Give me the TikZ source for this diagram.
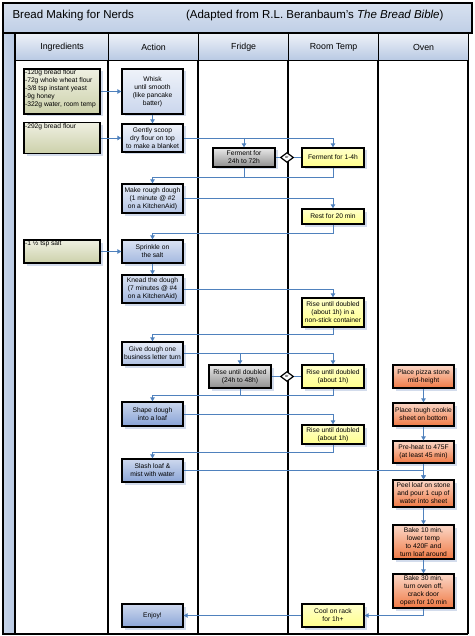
\documentclass[tikz,border=0pt]{standalone}
\usepackage{fontspec}
\setmainfont{Liberation Sans}
\usepackage{xcolor}
\usetikzlibrary{shapes.geometric,shadows,arrows.meta}

\definecolor{flowblue}{HTML}{4F81BD}
\definecolor{actblue}{HTML}{5A7FC6}
\definecolor{lanehead}{HTML}{B8C9E3}
\definecolor{ingtop}{HTML}{EFF0E2}
\definecolor{ingbot}{HTML}{CCD1AA}
\definecolor{roomyel}{HTML}{FFFF8C}
\definecolor{ovenorg}{HTML}{F07A45}
\definecolor{fridgegray}{HTML}{8E8E8E}
\definecolor{shadowblue}{HTML}{D3DCEC}

\begin{document}
\begin{tikzpicture}[x=1pt,y=-1pt,
    boxfont/.style={font=\fontsize{6.7}{8}\selectfont},
    stepbox/.style={draw=black,line width=1.3pt,inner sep=1pt,align=center,boxfont,
        drop shadow={shadow xshift=2.5pt,shadow yshift=-2.5pt,fill=shadowblue,opacity=1,draw=none}},
    ingbox/.style={stepbox,top color=ingtop,bottom color=ingbot,minimum width=76pt,minimum height=#1},
    ingtext/.style={align=left,inner sep=1.5pt,boxfont,anchor=north west},
    actbox/.style 2 args={stepbox,top color=actblue!#1!white,bottom color=actblue!#2!white,
        minimum width=61pt},
    fridgebox/.style={stepbox,top color=fridgegray!20!white,bottom color=fridgegray,minimum width=62pt},
    roombox/.style={stepbox,top color=roomyel!45!white,bottom color=roomyel,minimum width=62pt},
    ovenbox/.style={stepbox,top color=ovenorg!30!white,bottom color=ovenorg,minimum width=61pt},
    ornode/.style={diamond,draw=black,line width=1.2pt,fill=white,inner sep=0pt,
        minimum width=13pt,minimum height=10pt,font=\fontsize{4}{4}\selectfont},
    lanehead/.style={draw=black,line width=1.2pt,top color=lanehead!25!white,bottom color=lanehead,
        anchor=north west,inner sep=0pt,font=\fontsize{8.8}{10}\selectfont},
    laneline/.style={draw=black,line width=1.3pt},
    link/.style={draw=flowblue,line width=0.9pt},
    flow/.style={link,-{Triangle[width=4.5pt,length=4pt]}}]

    \useasboundingbox (0,0) rectangle (474,636);

    \def\lanetop{33}
    \def\headh{27}
    \def\lanebot{634}

    \shade[draw=black,line width=1.2pt,top color=lanehead!55!white,bottom color=lanehead!90!white]
        (3,3) rectangle (472,\lanetop);
    \node[anchor=west,font=\fontsize{11.5}{13}\selectfont] (title) at (9,16) {Bread Making for Nerds};
    \node[anchor=east,font=\fontsize{11.5}{13}\selectfont] (source) at (447,16)
        {(Adapted from R.L. Beranbaum’s \textit{The Bread Bible})};

    \shade[draw=black,line width=1.2pt,left color=lanehead!80!white,right color=lanehead]
        (3,\lanetop) rectangle (15,\lanebot);

    \foreach [count=\col from 0] \lane/\xl/\xr in
        {Ingredients/15/108,Action/108/198,Fridge/198/288,Room Temp/288/378,Oven/378/468} {
        \node[lanehead,minimum width={(\xr-\xl)*1pt},minimum height=\headh pt]
            (head\col) at (\xl,\lanetop) {\lane};
        \draw[laneline] (\xl,{\lanetop+\headh}) -- (\xl,\lanebot);
    }
    \draw[laneline] (468,{\lanetop+\headh}) -- (468,\lanebot);
    \draw[laneline] (15,\lanebot) -- (468,\lanebot);

    \node[ingbox=45pt] (ing1) at (62,91.5) {};
    \node[ingtext] (ing1txt) at (ing1.north west)
        {-120g bread flour\\-72g whole wheat flour\\-3/8 tsp instant yeast\\-9g honey\\-322g water, room temp};
    \node[ingbox=31pt] (ing2) at (62,138) {};
    \node[ingtext] (ing2txt) at (ing2.north west) {-292g bread flour};
    \node[ingbox=23pt] (ing3) at (62,251.5) {};
    \node[ingtext] (ing3txt) at (ing3.north west) {-1 ½ tsp salt};

    \node[actbox={10}{32},minimum height=45pt] (a1) at (152.5,91.5)
        {Whisk\\until smooth\\(like pancake\\batter)};
    \node[actbox={10}{35},minimum height=28pt] (a2) at (152.5,138)
        {Gently scoop\\dry flour on top\\to make a blanket};
    \node[actbox={15}{45},minimum height=29pt] (a3) at (152.5,198.5)
        {Make rough dough\\(1 minute @ \#2\\on a KitchenAid)};
    \node[actbox={22}{55},minimum height=23pt] (a4) at (152.5,251.5) {Sprinkle on\\the salt};
    \node[actbox={22}{55},minimum height=28pt] (a5) at (152.5,289)
        {Knead the dough\\(7 minutes @ \#4\\on a KitchenAid)};
    \node[actbox={15}{48},minimum height=23pt] (a6) at (152.5,353.5)
        {Give dough one\\business letter turn};
    \node[actbox={32}{72},minimum height=24pt] (a7) at (152.5,414) {Shape dough\\into a loaf};
    \node[actbox={30}{70},minimum height=23pt] (a8) at (152.5,470.5) {Slash loaf \&\\mist with water};
    \node[actbox={30}{70},minimum height=23pt] (a9) at (152.5,615.5) {Enjoy!};

    \node[fridgebox,minimum height=19pt] (f1) at (244,157.5) {Ferment for\\24h to 72h};
    \node[fridgebox,minimum height=23pt] (f2) at (240,376.5) {Rise until doubled\\(24h to 48h)};

    \node[roombox,minimum height=19pt] (r1) at (333,157.5) {Ferment for 1-4h};
    \node[roombox,minimum height=15pt] (r2) at (333,216.5) {Rest for 20 min};
    \node[roombox,minimum height=29pt] (r3) at (333,312.5)
        {Rise until doubled\\(about 1h) in a\\non-stick container};
    \node[roombox,minimum height=23pt] (r4) at (333,376.5) {Rise until doubled\\(about 1h)};
    \node[roombox,minimum height=19pt] (r5) at (333,434.5) {Rise until doubled\\(about 1h)};
    \node[roombox,minimum height=23pt] (r6) at (333,615.5) {Cool on rack\\for 1h+};

    \node[ovenbox,minimum height=23pt] (o1) at (423.5,376.5) {Place pizza stone\\mid-height};
    \node[ovenbox,minimum height=23pt] (o2) at (423.5,414.5) {Place tough cookie\\sheet on bottom};
    \node[ovenbox,minimum height=22pt] (o3) at (423.5,452) {Pre-heat to 475F\\(at least 45 min)};
    \node[ovenbox,minimum height=27pt] (o4) at (423.5,493.5)
        {Peel loaf on stone\\and pour 1 cup of\\water into sheet};
    \node[ovenbox,minimum height=34pt] (o5) at (423.5,542)
        {Bake 10 min,\\lower temp\\to 420F and\\turn loaf around};
    \node[ovenbox,minimum height=34pt] (o6) at (423.5,591)
        {Bake 30 min,\\turn oven off,\\crack door\\open for 10 min};

    \node[ornode] (or1) at (287,157.5) {or};
    \node[ornode] (or2) at (287,376.5) {or};

    \coordinate (j1) at (152.5,177);
    \coordinate (j2) at (152.5,233);
    \coordinate (j3) at (152.5,334);
    \coordinate (j4) at (152.5,395);
    \coordinate (j5) at (152.5,452);

    \draw[flow] (ing1) -- (a1);
    \draw[flow] (a1) -- (a2);
    \draw[flow] (ing2) -- (a2);
    \draw[flow] (a2.east) -| (r1.north);
    \draw[flow] (f1.north |- a2.east) -- (f1.north);
    \draw[link] (f1) -- (or1) -- (r1);
    \draw[link] (f1.south) -- (f1.south |- j1);
    \draw[flow] (r1.south) |- (j1) -- (a3.north);
    \draw[flow] (a3.east) -| (r2.north);
    \draw[flow] (r2.south) |- (j2) -- (a4.north);
    \draw[flow] (ing3) -- (a4);
    \draw[flow] (a4) -- (a5);
    \draw[flow] (a5.east) -| (r3.north);
    \draw[flow] (r3.south) |- (j3) -- (a6.north);
    \draw[flow] (a6.east) -| (r4.north);
    \draw[flow] (f2.north |- a6.east) -- (f2.north);
    \draw[link] (f2) -- (or2) -- (r4);
    \draw[link] (f2.south) -- (f2.south |- j4);
    \draw[flow] (r4.south) |- (j4) -- (a7.north);
    \draw[flow] (a7.east) -| (r5.north);
    \draw[flow] (r5.south) |- (j5) -- (a8.north);
    \draw[flow] (a8.east) -| (o4.north);
    \foreach \from/\to in {o1/o2,o2/o3,o3/o4,o4/o5,o5/o6} {
        \draw[flow] (\from) -- (\to);
    }
    \draw[flow] (o6.south) |- (r6.east);
    \draw[flow] (r6) -- (a9);
\end{tikzpicture}
\end{document}
